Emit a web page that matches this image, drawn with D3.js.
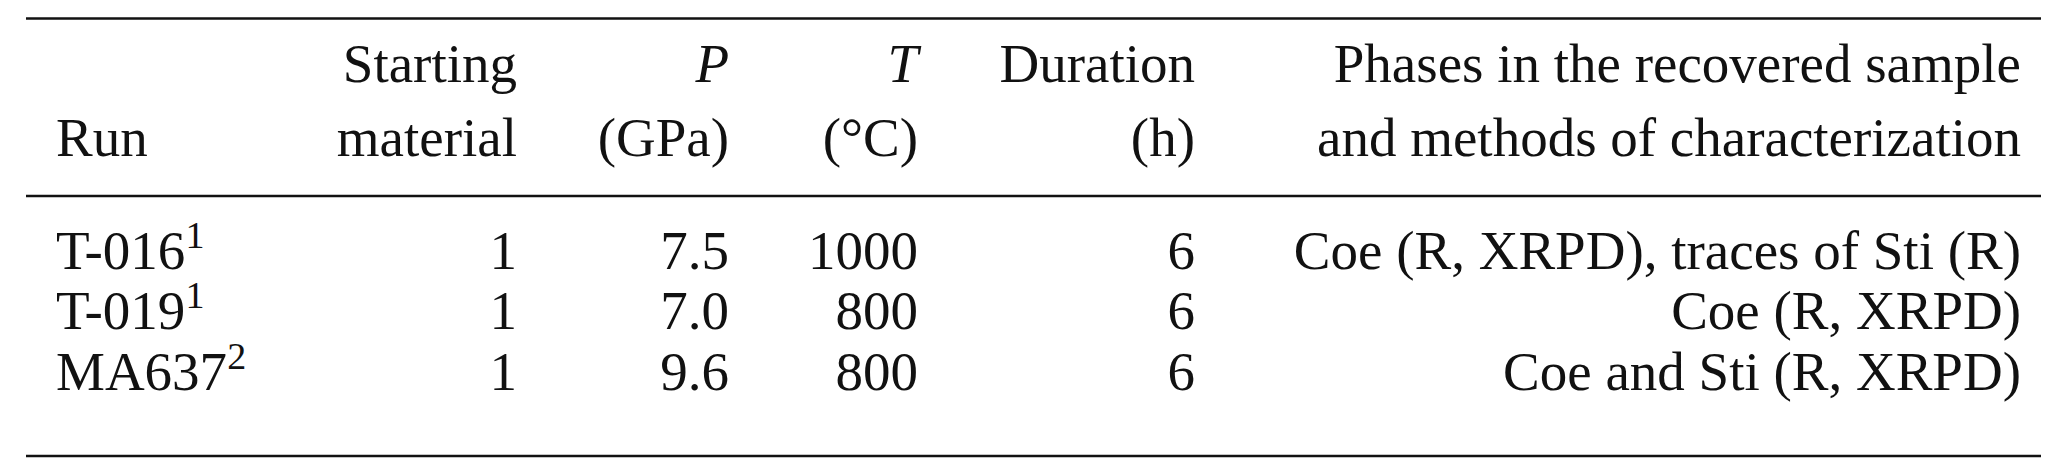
<!DOCTYPE html>
<html><head><meta charset="utf-8">
<script src="https://cdn.jsdelivr.net/npm/d3@7"></script>
<style>body{margin:0;background:#fff}text{font-family:"Liberation Serif","DejaVu Serif",serif;fill:#111}</style>
</head><body><svg id="c" width="2067" height="473"></svg>
<script>
const columns = ["run","start","P","T","dur","phases"];
const headerLine1 = ["", "Starting", "P", "T", "Duration", "Phases in the recovered sample"];
const headerLine2 = ["Run", "material", "(GPa)", "(°C)", "(h)", "and methods of characterization"];
const runs = ["T-016","T-019","MA637"];
const runRefs = ["1","1","2"];
const startMat = ["1","1","1"];
const pressure = ["7.5","7.0","9.6"];
const temperature = ["1000","800","800"];
const duration = ["6","6","6"];
const phases = ["Coe (R, XRPD), traces of Sti (R)","Coe (R, XRPD)","Coe and Sti (R, XRPD)"];

const svg = d3.select("#c");
const fs = 55;
const colX = d3.scaleOrdinal().domain(columns).range([56, 517, 729, 918, 1195, 2021]);
const yPos = {h1:82,h2:156,r0:269,r1:329,r2:390};
const ruleX = d3.scaleLinear().domain([0,1]).range([26,2041]);

[18.5,196,456].forEach(y=>svg.append("line").attr("x1",ruleX(0)).attr("x2",ruleX(1)).attr("y1",y).attr("y2",y).attr("stroke","#111").attr("stroke-width",2.5));

function cell(col, y, txt, italic){
  const t = svg.append("text").attr("x",colX(col)).attr("y",y).attr("font-size",fs)
   .attr("text-anchor", col==="run"?"start":"end").text(txt);
  if(italic) t.attr("font-style","italic");
  return t;
}
columns.forEach((c,i)=>{
  if(headerLine1[i]) cell(c, yPos.h1, headerLine1[i], c==="P"||c==="T");
  cell(c, yPos.h2, headerLine2[i]);
});
runs.forEach((r,i)=>{
  const y = yPos["r"+i];
  const t = cell("run", y, r);
  t.append("tspan").attr("font-size",38).attr("dy",-21).text(runRefs[i]);
  cell("start", y, startMat[i]);
  cell("P", y, pressure[i]);
  cell("T", y, temperature[i]);
  cell("dur", y, duration[i]);
  cell("phases", y, phases[i]);
});
</script></body></html>
